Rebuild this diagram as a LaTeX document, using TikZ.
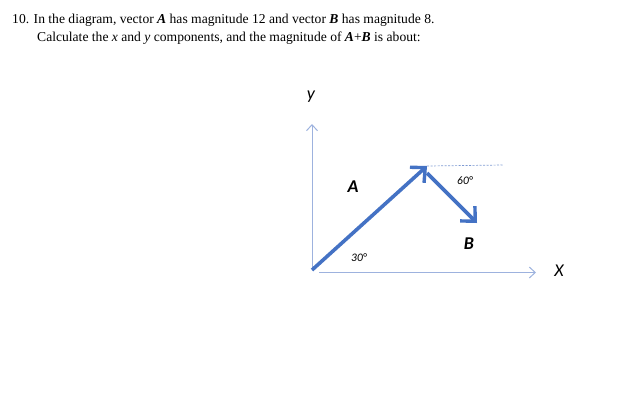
\documentclass[tikz,border=0pt]{standalone}
\usepackage{fontspec}
\setmainfont{Liberation Serif}
\newfontfamily\calib{Carlito}
\usetikzlibrary{arrows.meta}
\definecolor{vecblue}{HTML}{4472C4}
\definecolor{axisblue}{HTML}{9DB2DE}
\definecolor{dashblue}{HTML}{7F9BD3}
\tikzset{
  vecline/.style={draw=vecblue, line width=3.6pt, -{Straight Barb[length=11pt,width=21pt,line width=3.4pt]}},
  axisline/.style={draw=axisblue, line width=1pt, -{Straight Barb[length=6pt,width=11pt,line width=1pt]}},
  lbl/.style={font=\calib\bfseries\itshape\fontsize{18}{20}\selectfont, inner sep=0pt},
  anglbl/.style={font=\calib\itshape\fontsize{11.5}{12}\selectfont, inner sep=0pt},
  qtext/.style={font=\fontsize{13.6}{16}\selectfont, anchor=west, inner sep=0pt}
}
\begin{document}
\begin{tikzpicture}[x=1pt,y=-1pt]
\useasboundingbox (0,0) rectangle (631,400);
\node[qtext] (q1) at (12,20) {10. In the diagram, vector \textbf{\textit{A}} has magnitude 12 and vector \textbf{\textit{B}} has magnitude 8.};
\node[qtext] (q2) at (37,38) {Calculate the \textit{x} and \textit{y} components, and the magnitude of \textbf{\textit{A}}+\textbf{\textit{B}} is about:};
\coordinate (o) at (312,270);
\coordinate (ytop) at (312,124);
\coordinate (xs) at (319,272.5);
\coordinate (xe) at (536,272.5);
\coordinate (atip) at (427,166);
\coordinate (bs) at (427,173);
\coordinate (be) at (477,223);
\coordinate (dashend) at (503,165);
\draw[axisline] (o) -- (ytop);
\draw[axisline] (xs) -- (xe);
\draw[dashblue, line width=0.7pt, dashed, dash pattern=on 2pt off 1.5pt] (atip) -- (dashend);
\draw[vecline] (o) -- (atip);
\draw[vecline] (bs) -- (be);
\node[font=\calib\itshape\fontsize{18}{20}\selectfont, inner sep=0pt] (ylbl) at (311,97) {y};
\node[font=\calib\itshape\fontsize{18}{20}\selectfont, inner sep=0pt] (xlbl) at (559,271) {X};
\node[lbl] (alb) at (353,187) {A};
\node[lbl] (blb) at (469,244) {B};
\node[anglbl] (a60) at (465,181) {60°};
\node[anglbl] (a30) at (359,258) {30°};
\end{tikzpicture}
\end{document}
